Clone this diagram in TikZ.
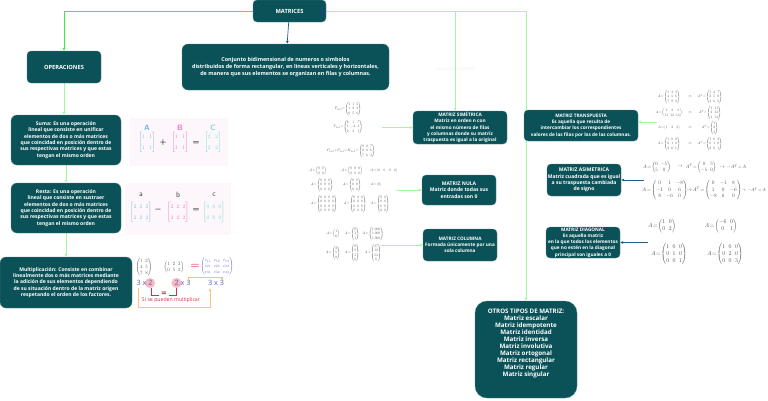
\documentclass[tikz,border=0pt]{standalone}
\usepackage{fontspec}
\usepackage{amsmath}
\usepackage{tikz}
\usetikzlibrary{arrows.meta, backgrounds}
\setmainfont{Open Sans}
\setlength{\arraycolsep}{3pt}
\thickmuskip=2mu
\medmuskip=1mu
\definecolor{boxteal}{HTML}{0B5258}
\definecolor{brightgreen}{HTML}{3CF03C}
\definecolor{palegreen}{HTML}{9CFB9C}
\definecolor{linkblue}{HTML}{1F5F8B}
\definecolor{paper}{HTML}{FDF6FB}
\definecolor{mblue}{HTML}{6DB5EE}
\definecolor{mpink}{HTML}{F070C0}
\definecolor{mteal}{HTML}{6FDCD2}
\definecolor{mviolet}{HTML}{5A5FC8}
\definecolor{mred}{HTML}{D0304A}
\definecolor{morange}{HTML}{F8C478}
\definecolor{mcircle}{HTML}{F8B8C0}
\begin{document}
\begin{tikzpicture}[x=1pt, y=-1pt,
				   topic/.style={rectangle, rounded corners=4pt, fill=boxteal, draw=boxteal!70!white, line width=0.3pt, text=white, inner sep=0pt, align=center, font=\fontsize{4.7}{6.3}\selectfont\bfseries},
				   topicbig/.style={font=\fontsize{5.05}{6.4}\selectfont\bfseries},
				   ex/.style={inner sep=0pt, text=black!70, scale=0.36},
				   exbig/.style={inner sep=0pt, text=black!70, scale=0.58},
				   colored/.style={inner sep=0pt, scale=0.55, execute at begin node={\renewcommand{\arraystretch}{1.6}}},
				   sheet/.style={inner sep=0pt, fill=paper},
				   dims/.style={inner sep=0pt, text=mviolet, font=\fontsize{7.3}{9}\selectfont},
				   greenlink/.style={draw=palegreen, line width=0.7pt, -{Latex[length=3pt,width=3pt]}},
				   brightlink/.style={draw=brightgreen, line width=0.8pt, -{Latex[length=3pt,width=3pt]}},
				   bluelink/.style={draw=linkblue, line width=0.7pt, -{Latex[length=3pt,width=3pt]}},
				   redlink/.style={draw=mred, line width=0.7pt},
				   orangelink/.style={draw=morange, line width=0.7pt, -{Latex[length=3pt,width=3pt]}}]
\useasboundingbox (0,0) rectangle (768,400);

\node[topic, minimum width=73pt, minimum height=22pt, font=\fontsize{5.7}{7}\selectfont\bfseries] (matrices) at (289.5,11) {MATRICES};
\node[topic, minimum width=207pt, minimum height=46pt, rounded corners=6pt, font=\fontsize{5.4}{6.7}\selectfont\bfseries] (concepto) at (285.5,67) {Conjunto bidimensional de numeros o simbolos\\distribuidos de forma rectangular, en lineas verticales y horizontales,\\de manera que sus elementos se organizan en filas y columnas.};
\node[topic, minimum width=74pt, minimum height=32pt, font=\fontsize{5.7}{7}\selectfont\bfseries] (operaciones) at (64,67) {OPERACIONES};
\node[topic, topicbig, minimum width=110pt, minimum height=50pt, rounded corners=6pt] (suma) at (66,140) {Suma: Es una operación\\lineal que consiste en unificar\\elementos de dos o más matrices\\que coincidad en posición dentro de\\sus respectivas matrices y que estas\\tengan el mismo orden};
\node[topic, topicbig, minimum width=110pt, minimum height=50pt, rounded corners=6pt] (resta) at (66,208) {Resta: Es una operación\\lineal que consiste en sustraer\\elementos de dos o más matrices\\que coincidad en posición dentro de\\sus respectivas matrices y que estas\\tengan el mismo orden};
\node[topic, topicbig, minimum width=132pt, minimum height=51pt, rounded corners=6pt] (multiplicacion) at (66,282.5) {Multiplicación: Consiste en combinar\\linealmente dos o más matrices mediante\\la adición de sus elementos dependiendo\\de su situación dentro de la matriz origen\\respetando el orden de los factores.};
\node[topic, minimum width=94pt, minimum height=33pt] (simetrica) at (460,127.5) {MATRIZ SIMÉTRICA\\Matriz en orden n con\\el mismo número de filas\\y columnas donde su matriz\\traspuesta es igual a la original};
\node[topic, topicbig, minimum width=74pt, minimum height=30pt] (nula) at (459,190) {MATRIZ NULA\\Matriz donde todas sus\\entradas son 0};
\node[topic, minimum width=74pt, minimum height=32pt] (columna) at (460,245) {MATRIZ COLUMNA\\Formada únicamente por una\\sola columna};
\node[topic, minimum width=114pt, minimum height=31pt] (transpuesta) at (581,125.5) {MATRIZ TRANSPUESTA\\Es aquella que resulta de\\intercambiar los correspondientes\\valores de las filas por los de las columnas.};
\node[topic, topicbig, minimum width=74pt, minimum height=32pt] (asimetrica) at (584,180) {MATRIZ ASIMETRICA\\Matriz cuadrada que es igual\\a su traspuesta cambiada\\de signo};
\node[topic, minimum width=74pt, minimum height=31pt] (diagonal) at (583,242.5) {MATRIZ DIAGONAL\\Es aquella matriz\\en la que todos los elementos\\que no estén en la diagonal\\principal son iguales a 0};
\node[topic, minimum width=102pt, minimum height=97pt, rounded corners=12pt, font=\fontsize{6.2}{7}\selectfont\bfseries] (otros) at (526,349.5) {OTROS TIPOS DE MATRIZ:\\Matriz escalar\\Matriz idempotente\\Matriz identidad\\Matriz inversa\\Matriz involutiva\\Matriz ortogonal\\Matriz rectangular\\Matriz regular\\Matriz singular\\[7pt]};
\node[inner sep=0pt, text=black!7, font=\fontsize{4}{5}\selectfont] (ejemplos) at (456,69.5) {ALGUNOS EJEMPLOS};

\node[sheet, minimum width=98pt, minimum height=48pt] (hojasuma) at (179,142) {};
\node[sheet, minimum width=106pt, minimum height=52pt] (hojaresta) at (178,209) {};

\node[colored, scale=1.4, text=mblue] (a) at (147,128) {\sffamily\bfseries A};
\node[colored, scale=1.4, text=mpink] (b) at (180,128) {\sffamily\bfseries B};
\node[colored, scale=1.4, text=mteal] (c) at (213,128) {\sffamily\bfseries C};
\node[colored, text=mblue] (ma) at (147,142) {$\begin{bmatrix}1&\;\;1\\1&\;\;1\end{bmatrix}$};
\node[colored, text=mpink] (mb) at (180,142) {$\begin{bmatrix}1&\;\;1\\1&\;\;1\end{bmatrix}$};
\node[colored, text=mteal] (mc) at (213,142) {$\begin{bmatrix}2&\;\;2\\2&\;\;2\end{bmatrix}$};
\node[colored, scale=1.4] (mas) at (163,143) {$\boldsymbol{+}$};
\node[colored, scale=1.4] (igual) at (196,143) {$\boldsymbol{=}$};
\node[colored, scale=1.4, text=black!75] (la) at (141,195) {\sffamily a};
\node[colored, scale=1.4, text=black!75] (lb) at (178,195) {\sffamily b};
\node[colored, scale=1.4, text=black!75] (lc) at (214,195) {\sffamily c};
\node[colored, text=mblue] (ra) at (141,212) {$\begin{bmatrix}2&2&2\\2&2&2\end{bmatrix}$};
\node[colored, text=mpink] (rb) at (178,212) {$\begin{bmatrix}2&2&2\\2&2&2\end{bmatrix}$};
\node[colored, text=mteal] (rc) at (214,212) {$\begin{bmatrix}0&0&0\\0&0&0\end{bmatrix}$};
\node[colored, scale=1.4] (menos) at (158,210) {$\boldsymbol{-}$};
\node[colored, scale=1.4] (igualr) at (196,210) {$\boldsymbol{=}$};

\node[ex, scale=1.35] (fa) at (144,267) {$\begin{pmatrix}1&2\\4&5\\7&8\end{pmatrix}$};
\node[ex] (punto) at (150,267) {$\cdot$};
\node[ex, scale=1.35] (fb) at (174,267) {$\begin{pmatrix}1&2&3\\0&5&2\end{pmatrix}$};
\node[colored, text=mred!85, scale=1.9] (igualm) at (195,266) {$\boldsymbol{=}$};
\node[ex, text=mviolet, scale=1.35] (fc) at (217,266) {$\begin{pmatrix}c_{11}&c_{12}&c_{13}\\c_{21}&c_{22}&c_{23}\\c_{31}&c_{32}&c_{33}\end{pmatrix}$};
\node[circle, fill=mcircle, minimum size=10pt, inner sep=0pt] (uno) at (150,283) {};
\node[circle, fill=mcircle, minimum size=10pt, inner sep=0pt] (dos) at (176.5,283) {};
\node[dims] (dimuno) at (144.5,283) {3 x 2};
\node[dims] (dimdos) at (182.5,283) {2 x 3};
\node[dims] (dimtres) at (216,283) {3 x 3};
\node[inner sep=0pt, text=mred, font=\fontsize{9}{9}\selectfont\bfseries] (igualred) at (164,294) {=};
\node[inner sep=0pt, text=mred, font=\fontsize{5.2}{6}\selectfont] (sepueden) at (171,300) {Si se pueden multiplicar};

\node[ex] (p1) at (348,109) {$P_{3x3}=\begin{pmatrix}1&1&5\\1&2&3\\0&5&6\end{pmatrix}$};
\node[ex] (p2) at (348,127) {$T_{3x3}=\begin{pmatrix}8&1&7\\1&-2&3\\2&3&1\end{pmatrix}$};
\node[ex] (p3) at (351,151) {$P_{3x3}+P_{3x3}=K_{3x3}=\begin{pmatrix}9&2&7\\2&0&6\\7&6&3\end{pmatrix}$};

\node[ex] (n1) at (318,171) {$A=\begin{pmatrix}0&0\\0&0\end{pmatrix}$};
\node[ex] (n2) at (352,171) {$A=\begin{pmatrix}0&0&0\\0&0&0\end{pmatrix}$};
\node[ex] (n3) at (384,171) {$A=(0\quad 0\quad 0\quad 0)$};
\node[ex] (n4) at (322,185) {$A=\begin{pmatrix}0&0&0\\0&0&0\\0&0&0\end{pmatrix}$};
\node[ex] (n5) at (352,185) {$A=\begin{pmatrix}0&0\\0&0\\0&0\end{pmatrix}$};
\node[ex] (n6) at (376,185) {$A=(0)$};
\node[ex] (n7) at (324,204) {$A=\begin{pmatrix}0&0&0&0\\0&0&0&0\\0&0&0&0\\0&0&0&0\end{pmatrix}$};
\node[ex] (n8) at (355,204) {$A=\begin{pmatrix}0&0&0\\0&0&0\\0&0&0\\0&0&0\end{pmatrix}$};
\node[ex] (n9) at (380,204) {$A=\begin{pmatrix}0&0\\0&0\\0&0\\0&0\end{pmatrix}$};

\node[ex] (c1) at (333,234) {$A=\begin{pmatrix}1\\0\end{pmatrix}$};
\node[ex] (c2) at (352,234) {$A=\begin{pmatrix}8\\1\\1\end{pmatrix}$};
\node[ex] (c3) at (373,234) {$A=\begin{pmatrix}1.000\\1.000\\1.000\end{pmatrix}$};
\node[ex] (c4) at (333,253) {$A=\begin{pmatrix}2\\5\\9\end{pmatrix}$};
\node[ex] (c5) at (352,253) {$A=\begin{pmatrix}8\\9\\5\\6\end{pmatrix}$};
\node[ex] (c6) at (373,253) {$A=\begin{pmatrix}37\\12\\53\\6\end{pmatrix}$};

\node[ex] (t1) at (669,97) {$A=\begin{pmatrix}1&2&3\\4&5&6\\7&8&9\end{pmatrix}$};
\node[ex] (t1f) at (690,97) {$\Rightarrow$};
\node[ex] (t1b) at (710,97) {$A^T=\begin{pmatrix}1&4&7\\2&5&8\\3&6&9\end{pmatrix}$};
\node[ex] (t2) at (669,113) {$A=\begin{pmatrix}1&2&3\\11&12&13\end{pmatrix}$};
\node[ex] (t2f) at (690,113) {$\Rightarrow$};
\node[ex] (t2b) at (710,113) {$A^T=\begin{pmatrix}1&11\\2&12\\3&13\end{pmatrix}$};
\node[ex] (t3) at (669,128) {$A=(1\quad 2\quad 3)$};
\node[ex] (t3f) at (690,128) {$\Rightarrow$};
\node[ex] (t3b) at (710,128) {$A^T=\begin{pmatrix}1\\2\\3\end{pmatrix}$};
\node[ex] (t4) at (669,144) {$A=\begin{pmatrix}1&0&2\\0&1&0\\2&0&1\end{pmatrix}$};
\node[ex] (t4f) at (690,144) {$\Rightarrow$};
\node[ex] (t4b) at (710,144) {$A^T=\begin{pmatrix}1&0&2\\0&1&0\\2&0&1\end{pmatrix}$};

\node[exbig, scale=0.85] (s1) at (657,167) {$A=\begin{pmatrix}0&-5\\5&0\end{pmatrix}$};
\node[exbig, scale=0.85] (s1f) at (680,167) {$\rightarrow$};
\node[exbig, scale=0.85] (s1b) at (701,167) {$A^T=\begin{pmatrix}0&5\\-5&0\end{pmatrix}$};
\node[exbig, scale=0.85] (s1c) at (733,167) {$\rightarrow\ -A^T=A$};
\node[exbig, scale=0.92] (s2) at (665,190) {$A=\begin{pmatrix}0&1&-8\\-1&0&6\\8&-6&0\end{pmatrix}$};
\node[exbig, scale=0.92] (s2b) at (714,190) {$\rightarrow A^T=\begin{pmatrix}0&-1&8\\1&0&-6\\-8&6&0\end{pmatrix}$};
\node[exbig, scale=0.8] (s2c) at (753.5,190) {$\rightarrow\ -A^T=A$};

\node[exbig] (d1) at (662,226) {$A=\begin{pmatrix}1&0\\0&2\end{pmatrix}$};
\node[exbig] (d2) at (721,226) {$A=\begin{pmatrix}-6&0\\0&1\end{pmatrix}$};
\node[exbig] (d3) at (669,254) {$A=\begin{pmatrix}1&0&0\\0&1&0\\0&0&1\end{pmatrix}$};
\node[exbig] (d4) at (725,254) {$A=\begin{pmatrix}1&0&0\\0&2&0\\0&0&3\end{pmatrix}$};

\coordinate (opentrada) at (64,51);
\coordinate (opsalida) at (64,83);
\coordinate (sumaentrada) at (64,115);
\coordinate (simentrada) at (455,111);
\coordinate (exsim) at (382,127.5);
\coordinate (exnula) at (397,190);
\coordinate (excol) at (381,245);
\coordinate (extrans) at (657,122);
\coordinate (exasim) at (644,180);
\coordinate (exdiag) at (648,242.5);
\coordinate (rojoa) at (151,288);
\coordinate (rojob) at (176,288);
\coordinate (rojoc) at (159,295);
\coordinate (rojod) at (169,295);
\coordinate (naranjaa) at (138,288);
\coordinate (naranjab) at (210,307);
\coordinate (naranjac) at (210,288);
\coordinate (naranjad) at (188,282);
\coordinate (naranjae) at (222,277);
\coordinate (naranjaf) at (222,281);

\begin{scope}[on background layer]
\draw[brightlink] (matrices.west) -| (opentrada);
\draw[bluelink] (matrices) -- (concepto);
\draw[greenlink] (matrices.east) -| (otros.north);
\draw[greenlink] (matrices.east) -| (simentrada);
\draw[greenlink] (opsalida) -- (sumaentrada);
\draw[greenlink] (suma) -- (resta);
\draw[greenlink] (resta) -- (multiplicacion);
\draw[greenlink] (exsim) -- (simetrica);
\draw[greenlink] (exnula) -- (nula);
\draw[greenlink] (excol) -- (columna);
\draw[greenlink] (extrans) -- (extrans -| transpuesta.east);
\draw[bluelink] (exasim) -- (asimetrica);
\draw[bluelink] (exdiag) -- (diagonal);
\end{scope}
\draw[redlink] (rojoa) |- (rojoc);
\draw[redlink] (rojob) |- (rojod);
\draw[orangelink] (naranjaa) |- (naranjab) -- (naranjac);
\draw[orangelink] (naranjad) |- (naranjae) -- (naranjaf);
\end{tikzpicture}
\end{document}
